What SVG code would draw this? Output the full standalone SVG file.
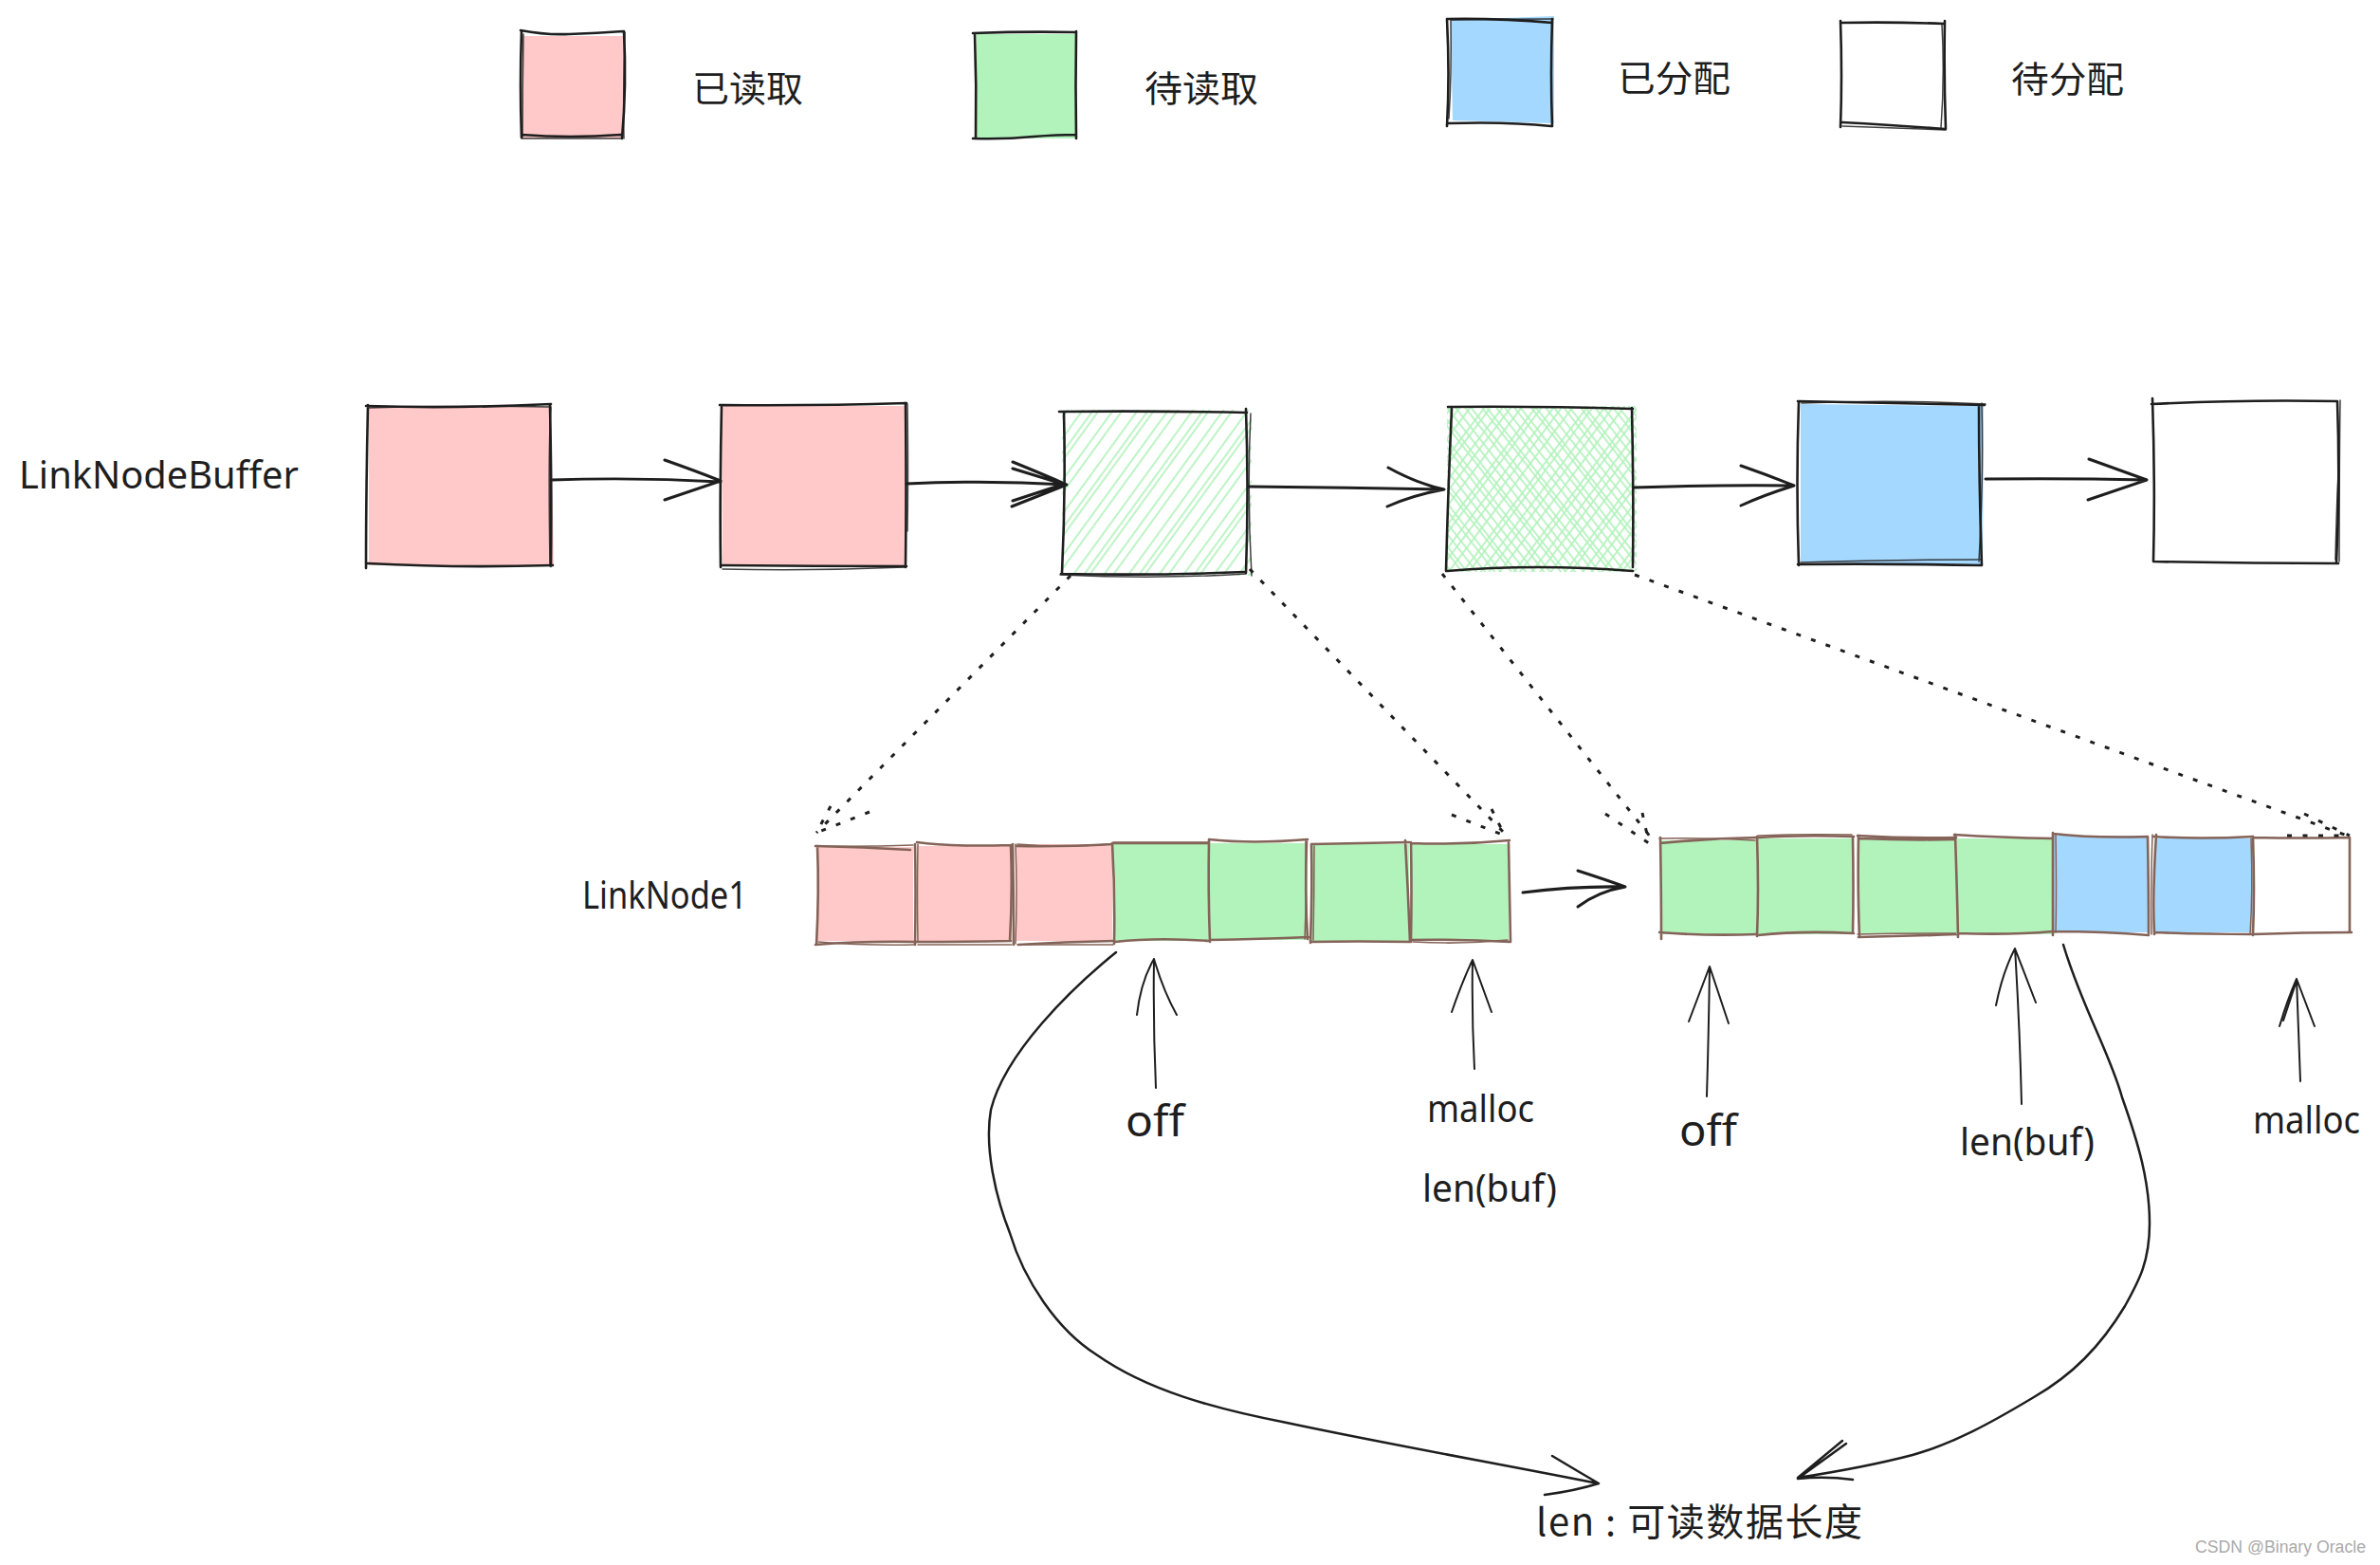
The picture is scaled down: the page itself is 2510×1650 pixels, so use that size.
<svg xmlns="http://www.w3.org/2000/svg" width="2510" height="1650" viewBox="0 0 2510 1650">
<style>
.k{fill:none;stroke:#1e1e1e;stroke-width:2.6;stroke-linecap:round;stroke-linejoin:round}
.k2{fill:none;stroke:#1e1e1e;stroke-width:1.5;stroke-linecap:round;opacity:.85}
.b{fill:none;stroke:#846358;stroke-width:2.6;stroke-linecap:round}
.b2{fill:none;stroke:#846358;stroke-width:1.5;stroke-linecap:round}
.pk{fill:#ffc9c9}.gr{fill:#b2f2bb}.bl{fill:#a5d8ff}
.ar{fill:none;stroke:#1e1e1e;stroke-width:3;stroke-linecap:round;stroke-linejoin:round}
.th{fill:none;stroke:#1e1e1e;stroke-width:2;stroke-linecap:round;stroke-linejoin:round}
.dot{fill:none;stroke:#1e1e1e;stroke-width:3;stroke-dasharray:5 11.5}
.t{font-family:"Noto Sans","Liberation Sans",sans-serif;font-size:40px;fill:#1e1e1e}
.c{font-family:"Noto Sans CJK SC","Noto Sans",sans-serif;font-size:38px;fill:#1e1e1e}
.w{font-family:"Liberation Sans",Arial,sans-serif;font-size:18px;fill:#aaaaaa}
</style>
<defs>
<pattern id="h1" width="47" height="47" patternUnits="userSpaceOnUse" patternTransform="rotate(36)">
<path d="M3 0V47M12 0V47M17 0V47M29 0V47M37 0V47" stroke="#b2f2bb" stroke-width="1.7" fill="none"/>
</pattern>
<pattern id="h2" width="41" height="41" patternUnits="userSpaceOnUse" patternTransform="rotate(-38)">
<path d="M2 0V41M10 0V41M15 0V41M24 0V41M28 0V41M36 0V41" stroke="#b2f2bb" stroke-width="1.7" fill="none"/>
</pattern>
<pattern id="h3" width="43" height="43" patternUnits="userSpaceOnUse" patternTransform="rotate(37)">
<path d="M4 0V43M9 0V43M19 0V43M26 0V43M35 0V43" stroke="#b2f2bb" stroke-width="1.7" fill="none"/>
</pattern>
</defs>
<rect width="2510" height="1650" fill="#ffffff"/>

<g id="legend-read">
<path class="pk" d="M551 38H658L657 146H551Z"/>
<path class="k" d="M549 32Q575 37 600 36Q630 35 657 33M550 33Q548 90 550 145M658 33Q661 90 656 146M550 142Q600 146 655 142"/>
<path class="k2" d="M550 146H656M659 34Q657 100 658 146M552 36Q551 90 551 144"/>
<text class="c" x="730" y="107" textLength="117" lengthAdjust="spacingAndGlyphs">已读取</text>
</g>
<g id="legend-unread">
<path class="gr" d="M1030 36H1135L1135 146H1030Z"/>
<path class="k" d="M1026 35Q1080 33 1135 34M1028 35Q1030 90 1029 146M1135 33Q1134 90 1135 146M1026 146Q1060 147 1090 144Q1115 142 1135 142"/>
<text class="c" x="1207" y="107" textLength="120" lengthAdjust="spacingAndGlyphs">待读取</text>
</g>
<g id="legend-allocated">
<path class="bl" d="M1530 21L1639 17V130L1532 127Z"/>
<path class="k" d="M1526 20Q1580 19 1637 24M1526 20Q1529 80 1526 133M1637 20Q1635 80 1637 133M1527 130Q1590 128 1636 133"/>
<path class="k2" d="M1530 21Q1590 20 1638 20M1530 22Q1531 80 1528 125"/>
<text class="c" x="1706" y="96" textLength="119" lengthAdjust="spacingAndGlyphs">已分配</text>
</g>
<g id="legend-free">
<path class="k" d="M1941 24Q2000 23 2050 25M1941 22Q1943 80 1941 134M2051 22Q2050 80 2052 136M1943 129Q2000 132 2051 136"/>
<path class="k2" d="M1943 133Q2000 135 2052 137M2048 26Q2051 80 2047 135"/>
<text class="c" x="2121" y="97" textLength="119" lengthAdjust="spacingAndGlyphs">待分配</text>
</g>

<g id="label-linknodebuffer"><text class="t" x="20" y="515" textLength="295" lengthAdjust="spacingAndGlyphs">LinkNodeBuffer</text></g>
<g id="label-linknode1"><text class="t" x="614" y="958" textLength="174" lengthAdjust="spacingAndGlyphs">LinkNode1</text></g>

<g id="node-1">
<path class="pk" d="M389 429L581 429L584 596L389 596Z"/>
<path class="k" d="M386 428Q480 431 581 426M388 427Q386 520 386 599M580 427Q582 520 581 597M388 594Q480 599 583 596"/>
<path class="k2" d="M388 430Q480 427 581 429M581 430Q578 470 580 597"/>
</g>
<g id="node-2">
<path class="pk" d="M761 428L956 428L955 597L762 596Z"/>
<path class="k" d="M759 427Q860 428 956 425M761 427Q759 520 760 598M955 425Q956 520 955 598M762 596Q860 597 956 597"/>
<path class="k2" d="M762 600Q860 602 954 598M957 426Q958 500 957 560"/>
</g>
<g id="node-3">
<rect x="1120" y="432" width="200" height="175" fill="url(#h1)"/>
<path class="k" d="M1117 434Q1220 433 1315 435M1122 434Q1124 520 1120 604M1314 431Q1317 520 1314 604M1119 605Q1220 607 1312 603"/>
<path class="k2" d="M1319 436Q1315 520 1320 607M1118 606Q1220 611 1314 605"/>
</g>
<g id="node-4">
<rect x="1526" y="428" width="200" height="175" fill="url(#h3)"/>
<rect x="1526" y="428" width="200" height="175" fill="url(#h2)"/>
<path class="k" d="M1527 429Q1620 428 1722 431M1531 431Q1527 520 1525 602M1721 430Q1723 520 1722 598M1526 602Q1620 594 1722 602"/>
</g>
<g id="node-5">
<path class="bl" d="M1899 426L2092 428L2091 595L1899 593Z"/>
<path class="k" d="M1896 423Q1990 425 2093 427M1897 424Q1894 510 1897 596M2087 427Q2087 510 2090 596M1896 595Q1990 594 2090 596"/>
<path class="k2" d="M1900 425Q2000 421 2094 426M2090 425Q2092 510 2087 592M1899 593Q2000 590 2089 590"/>
</g>
<g id="node-6">
<path class="k" d="M2269 426Q2370 421 2465 423M2270 420Q2273 510 2271 592M2465 423Q2468 510 2464 594M2271 592Q2370 594 2466 594"/>
<path class="k2" d="M2468 422Q2467 500 2467 592M2463 590Q2464 540 2466 500"/>
</g>

<g id="cell-a1"><path class="pk" d="M862 893H963V992H862Z"/><path class="b" d="M860 892Q910 893 960 896M862 892Q864 940 861 996M860 996Q910 992 966 993"/><path class="b2" d="M860 892Q910 893 963 891M863 993Q910 997 965 996"/></g>
<g id="cell-a2"><path class="pk" d="M967 892H1067V992H967Z"/><path class="b" d="M967 888Q1000 893 1066 891M965 890Q966 940 965 996M1066 891Q1068 940 1065 992M966 993Q1020 993 1066 992"/><path class="b2" d="M968 890Q967 940 968 993M968 996H1067"/></g>
<g id="cell-a3"><path class="pk" d="M1071 890H1173V992H1071Z"/><path class="b" d="M1072 892Q1120 893 1174 890M1068 890Q1069 940 1069 996M1074 996Q1120 993 1175 992"/><path class="b2" d="M1071 890Q1073 940 1071 995M1073 890Q1120 894 1172 890M1073 996H1174"/></g>
<g id="cell-a4"><path class="gr" d="M1174 890H1275V992H1174Z"/><path class="b" d="M1173 889Q1220 889 1275 889M1173 889Q1176 940 1175 995M1176 993Q1220 988 1275 992"/><path class="b2" d="M1174 888Q1220 888 1275 888"/></g>
<g id="cell-a5"><path class="gr" d="M1275 889H1379V991H1275Z"/><path class="b" d="M1275 885Q1320 890 1379 885M1275 885Q1274 940 1276 993M1378 887Q1376 940 1379 990M1276 991Q1330 990 1380 988"/><path class="b2" d="M1377 887Q1378 940 1376 990"/></g>
<g id="cell-a6"><path class="gr" d="M1383 890H1486V992H1383Z"/><path class="b" d="M1383 890Q1430 889 1486 888M1383 890Q1384 940 1382 994M1482 886Q1485 940 1487 993M1382 993Q1430 992 1488 993"/><path class="b2" d="M1386 892Q1386 940 1385 991"/></g>
<g id="cell-a7"><path class="gr" d="M1489 890H1591V992H1489Z"/><path class="b" d="M1488 889Q1540 891 1592 886M1488 888Q1489 940 1488 990M1591 888Q1592 940 1593 993M1488 991Q1540 990 1592 993"/><path class="b2" d="M1490 993Q1540 996 1590 991"/></g>

<g id="cell-b1"><path class="gr" d="M1751 886H1853V985H1751Z"/><path class="b" d="M1751 889Q1800 884 1853 883M1751 883Q1752 940 1752 990M1750 983Q1800 987 1853 985"/><path class="b2" d="M1750 884Q1800 883 1851 886"/></g>
<g id="cell-b2"><path class="gr" d="M1854 884H1954V985H1854Z"/><path class="b" d="M1854 883Q1900 880 1955 882M1853 882Q1855 940 1853 987M1954 882Q1955 940 1954 984M1854 986Q1900 981 1955 984"/><path class="b2" d="M1854 881Q1900 879 1953 880"/></g>
<g id="cell-b3"><path class="gr" d="M1961 884H2063V985H1961Z"/><path class="b" d="M1959 881Q2010 884 2063 883M1960 881Q1959 940 1961 988M1960 988Q2010 987 2065 985M1961 884Q2010 886 2062 885"/><path class="b2" d="M1959 985Q2010 984 2063 984"/></g>
<g id="cell-b4"><path class="gr" d="M2063 884H2165V985H2063Z"/><path class="b" d="M2061 880Q2110 883 2165 884M2062 880Q2064 940 2065 988M2065 984Q2120 986 2165 982"/></g>
<g id="cell-b5"><path class="bl" d="M2166 881H2265V983H2166Z"/><path class="b" d="M2165 879Q2210 884 2265 882M2165 878Q2165 940 2165 986M2265 882Q2266 940 2266 984M2165 982Q2220 982 2266 986"/><path class="b2" d="M2168 880Q2169 940 2168 983"/></g>
<g id="cell-b6"><path class="bl" d="M2273 884H2376V983H2273Z"/><path class="b" d="M2271 882Q2320 885 2376 882M2274 880Q2270 940 2272 985M2272 983Q2320 985 2376 985"/><path class="b2" d="M2270 880Q2268 940 2269 985"/></g>
<g id="cell-b7"><path class="b" d="M2376 883Q2430 884 2478 883M2376 882Q2378 940 2376 986M2478 883Q2478 940 2478 983M2376 985Q2430 983 2480 983"/><path class="b2" d="M2374 884Q2376 940 2373 985"/></g>

<g id="label-off-1"><text class="t" style="font-size:46px" x="1187" y="1198" textLength="62" lengthAdjust="spacingAndGlyphs">off</text></g>
<g id="label-malloc-1"><text class="t" x="1505" y="1183" textLength="113" lengthAdjust="spacingAndGlyphs">malloc</text></g>
<g id="label-lenbuf-1"><text class="t" x="1500" y="1267" textLength="142" lengthAdjust="spacingAndGlyphs">len(buf)</text></g>
<g id="label-off-2"><text class="t" style="font-size:46px" x="1771" y="1208" textLength="61" lengthAdjust="spacingAndGlyphs">off</text></g>
<g id="label-lenbuf-2"><text class="t" x="2067" y="1218" textLength="142" lengthAdjust="spacingAndGlyphs">len(buf)</text></g>
<g id="label-malloc-2"><text class="t" x="2376" y="1195" textLength="113" lengthAdjust="spacingAndGlyphs">malloc</text></g>
<g id="label-len"><text class="c" x="1620" y="1619" style="font-size:40px" textLength="344" lengthAdjust="spacing">len : 可读数据长度</text></g>
<g id="watermark"><text class="w" x="2315" y="1637" textLength="180" lengthAdjust="spacingAndGlyphs">CSDN @Binary Oracle</text></g>

<g id="connectors">
<path class="ar" d="M582 506Q670 503 760 508M701 485Q735 497 760 507L701 527"/>
<path class="ar" d="M956 510Q1040 506 1125 511M1068 487Q1100 500 1125 511L1067 534M1068 494L1120 510M1068 528L1120 511"/>
<path class="ar" d="M1317 513Q1420 514 1523 516M1464 493Q1495 510 1523 516Q1490 522 1463 534"/>
<path class="ar" d="M1723 514Q1810 511 1892 512M1836 491Q1865 501 1892 512Q1860 522 1836 533"/>
<path class="ar" d="M2094 505Q2180 504 2264 506M2203 484L2264 506L2202 527"/>
<path class="ar" d="M1606 941Q1660 934 1714 935M1664 918Q1695 928 1714 935Q1685 940 1664 956"/>

<path class="dot" d="M1129 607L861 878"/>
<path class="dot" d="M917 856L861 878M876 850L861 878"/>
<path class="dot" d="M1318 600L1590 882"/>
<path class="dot" d="M1531 859L1587 881M1573 853L1587 881"/>
<path class="dot" d="M1521 605L1745 888"/>
<path class="dot" d="M1693 858L1739 889M1732 857L1739 889"/>
<path class="dot" d="M1724 606L2478 882"/>
<path class="dot" d="M2412 881H2478M2430 858L2478 881"/>

<path class="th" d="M1219 1147Q1216 1080 1217 1011M1199 1070Q1203 1035 1217 1011Q1227 1045 1241 1070"/>
<path class="th" d="M1555 1127Q1552 1070 1553 1012M1531 1067Q1542 1035 1553 1012L1573 1067"/>
<path class="th" d="M1800 1156Q1802 1090 1803 1019M1781 1077L1803 1019L1823 1079"/>
<path class="th" d="M2132 1164Q2130 1080 2125 1000M2105 1060Q2112 1025 2125 1000L2147 1057"/>
<path class="th" d="M2426 1140Q2424 1080 2422 1032M2404 1082Q2412 1055 2422 1032L2441 1082M2408 1076L2422 1034"/>

<path class="ar" style="stroke-width:2.5" d="M1177 1004C1130 1042 1060 1110 1045 1170C1038 1210 1050 1262 1065 1300C1080 1350 1115 1402 1156 1428C1210 1466 1280 1485 1357 1500C1460 1522 1590 1545 1685 1564M1637 1535Q1662 1550 1686 1564Q1660 1572 1629 1576"/>
<path class="ar" style="stroke-width:2.5" d="M2176 996C2195 1060 2225 1110 2238 1157C2255 1205 2267 1245 2267 1290C2267 1330 2256 1350 2241 1377C2215 1420 2185 1450 2145 1473C2100 1500 2060 1522 2017 1534C1975 1545 1935 1552 1896 1558M1943 1519L1896 1558M1954 1560Q1925 1556 1896 1559M1947 1522L1900 1556"/>
</g>
</svg>
